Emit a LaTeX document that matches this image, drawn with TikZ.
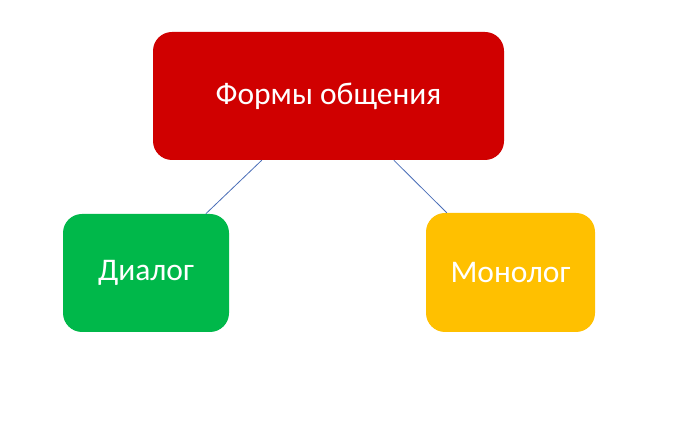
\documentclass[tikz,border=0pt]{standalone}
\usepackage{fontspec}
\setmainfont{Carlito}
\usetikzlibrary{calc}
\definecolor{topred}{HTML}{D00000}
\definecolor{dgreen}{HTML}{00B84A}
\definecolor{myellow}{HTML}{FFC000}
\definecolor{linkblue}{HTML}{4A6EB8}
\tikzset{
  box/.style={rounded corners=19pt, inner sep=0pt, text=white, font=\fontsize{31.5}{38}\selectfont},
  link/.style={draw=linkblue, line width=0.8pt}
}
\begin{document}
\begin{tikzpicture}[x=1pt,y=1pt]
\useasboundingbox[fill=white] (0,0) rectangle (685,441);
\node[box, fill=topred, minimum width=351pt, minimum height=128pt] (top) at (328.5,345) {Формы общения};
\node[box, fill=dgreen, minimum width=166pt, minimum height=118pt] (dialog) at (146,168) {Диалог};
\node[box, fill=myellow, minimum width=169pt, minimum height=119pt] (mono) at (510.5,168.5) {Монолог};
\draw[link] ($(top.south west)+(109,0)$) -- ($(dialog.north west)+(143,0)$);
\draw[link] ($(top.south west)+(241,0)$) -- ($(mono.north west)+(21,0)$);
\end{tikzpicture}
\end{document}
